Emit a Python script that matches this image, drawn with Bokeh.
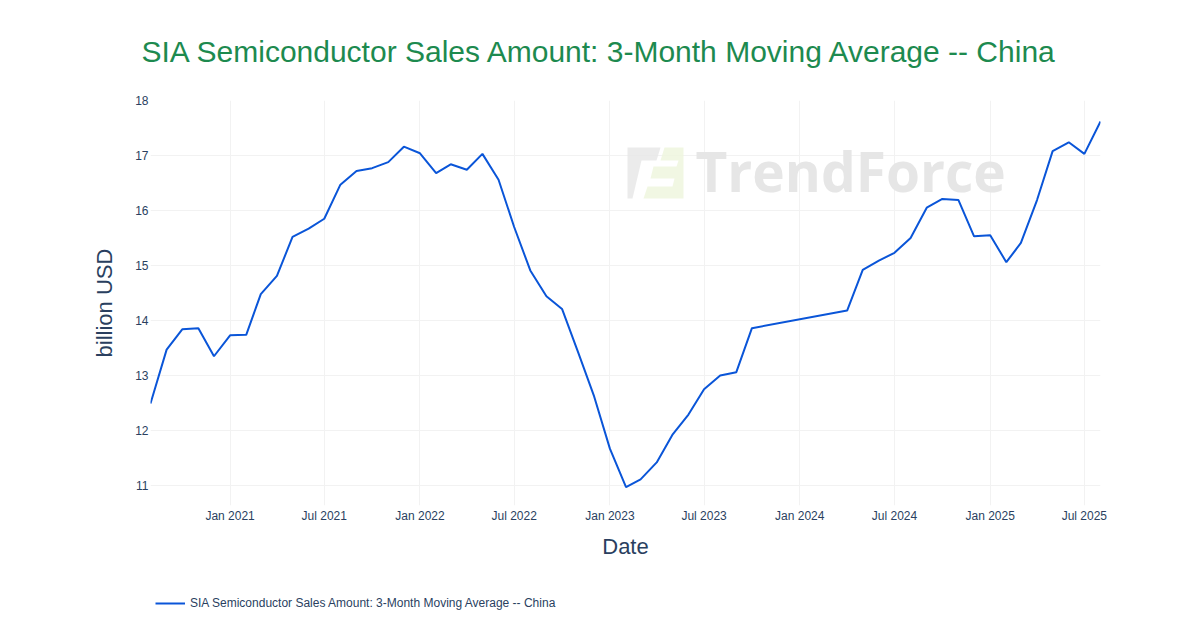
from datetime import datetime

from bokeh.embed import file_html
from bokeh.layouts import column
from bokeh.models import (ColumnDataSource, DatetimeTickFormatter, FixedTicker,
                          Label, Legend, LegendItem, PolyAnnotation, Range1d,
                          Title)
from bokeh.plotting import figure
from bokeh.resources import INLINE

# Monthly 3-month moving average of semiconductor sales in China (billion USD)
months = [
    "2020-08", "2020-09", "2020-10", "2020-11", "2020-12",
    "2021-01", "2021-02", "2021-03", "2021-04", "2021-05", "2021-06",
    "2021-07", "2021-08", "2021-09", "2021-10", "2021-11", "2021-12",
    "2022-01", "2022-02", "2022-03", "2022-04", "2022-05", "2022-06",
    "2022-07", "2022-08", "2022-09", "2022-10", "2022-11", "2022-12",
    "2023-01", "2023-02", "2023-03", "2023-04", "2023-05", "2023-06",
    "2023-07", "2023-08", "2023-09", "2023-10",
    "2024-04", "2024-05", "2024-06", "2024-07", "2024-08", "2024-09",
    "2024-10", "2024-11", "2024-12",
    "2025-01", "2025-02", "2025-03", "2025-04", "2025-05", "2025-06",
    "2025-07", "2025-08",
]
sales = [
    12.49, 13.47, 13.84, 13.86, 13.35,
    13.73, 13.74, 14.48, 14.81, 15.52, 15.67,
    15.85, 16.47, 16.72, 16.77, 16.88, 17.16,
    17.04, 16.68, 16.84, 16.74, 17.03, 16.56,
    15.70, 14.91, 14.44, 14.21, 13.42, 12.64,
    11.67, 10.97, 11.11, 11.42, 11.92, 12.29,
    12.75, 13.00, 13.06, 13.86,
    14.18, 14.92, 15.09, 15.23, 15.50, 16.05,
    16.21, 16.19, 15.53,
    15.55, 15.06, 15.41, 16.19, 17.08, 17.24,
    17.03, 17.62,
]
x_ticks = ["2021-01", "2021-07", "2022-01", "2022-07", "2023-01",
           "2023-07", "2024-01", "2024-07", "2025-01", "2025-07"]
y_ticks = [11, 12, 13, 14, 15, 16, 17, 18]

series_name = "SIA Semiconductor Sales Amount: 3-Month Moving Average -- China"

FONT = "Liberation Sans"
INK = "#2a3f5f"
GRID = "#f2f2f2"
LINE = "#0a55d8"


def to_dt(s):
    return datetime.strptime(s, "%Y-%m")


def to_ms(s):
    return (to_dt(s) - datetime(1970, 1, 1)).total_seconds() * 1000.0


dates = [to_dt(m) for m in months]
source = ColumnDataSource(data=dict(date=dates, sales=sales))

p = figure(
    width=1200, height=580,
    x_axis_type="datetime",
    output_backend="svg", toolbar_location=None,
    min_border_left=150, min_border_right=100,
    min_border_top=100, min_border_bottom=75,
    x_range=Range1d(to_ms(months[0]), to_ms(months[-1])),
    y_range=Range1d(10.636, 18.0),
)
p.outline_line_color = None
p.background_fill_color = "white"
p.border_fill_color = "white"

# Title, left-aligned just outside the frame's left edge
p.add_layout(Title(
    text=series_name, text_font=FONT, text_font_size="30px",
    text_font_style="normal", text_color="#1d8a4f",
    align="left", offset=-9, standoff=65), "above")

# Axes
p.xaxis.ticker = FixedTicker(ticks=[to_ms(t) for t in x_ticks])
p.xaxis.formatter = DatetimeTickFormatter(
    years="%b %Y", months="%b %Y", days="%b %Y", hours="%b %Y")
p.yaxis.ticker = FixedTicker(ticks=y_ticks)
for ax in (p.xaxis[0], p.yaxis[0]):
    ax.axis_line_color = None
    ax.major_tick_line_color = None
    ax.minor_tick_line_color = None
    ax.major_tick_out = 0
    ax.major_tick_in = 0
    ax.minor_tick_out = 0
    ax.minor_tick_in = 0
    ax.major_label_text_font = FONT
    ax.major_label_text_font_size = "12px"
    ax.major_label_text_color = INK
    ax.axis_label_text_font = FONT
    ax.axis_label_text_font_size = "22px"
    ax.axis_label_text_font_style = "normal"
    ax.axis_label_text_color = INK
p.xaxis.axis_label = "Date"
p.yaxis.axis_label = "billion USD"
p.xaxis.major_label_standoff = 3
p.xaxis.axis_label_standoff = 8
p.yaxis.major_label_standoff = 2
p.yaxis.axis_label_standoff = 15

p.xgrid.grid_line_color = GRID
p.ygrid.grid_line_color = GRID
p.xgrid.grid_line_width = 1
p.ygrid.grid_line_width = 1

# Faint brand watermark behind the series
logo_gray = PolyAnnotation(
    xs=[477, 510, 506, 491, 482, 477], ys=[358, 358, 345, 345, 307, 307],
    xs_units="screen", ys_units="screen",
    fill_color="#e6e6e6", fill_alpha=0.8, line_color=None, level="underlay")
logo_green = PolyAnnotation(
    xs=[514, 533, 533, 493, 497, 522, 524, 500, 503, 526, 528, 510],
    ys=[358, 358, 307, 307, 319, 319, 327, 327, 339, 339, 345, 345],
    xs_units="screen", ys_units="screen",
    fill_color="#eef5dc", fill_alpha=0.8, line_color=None, level="underlay")
p.add_layout(logo_gray)
p.add_layout(logo_green)
p.add_layout(Label(
    x=545, y=335, x_units="screen", y_units="screen",
    text="TrendForce", text_font="Open Sans", text_font_style="bold",
    text_font_size="55px", text_color="#e6e6e6", text_baseline="alphabetic",
    level="underlay"))

# Series line
r = p.line("date", "sales", source=source, line_color=LINE, line_width=2)

# Legend strip under the chart (its frame lines up with the chart's frame)
key = figure(
    width=1200, height=50, output_backend="svg", toolbar_location=None,
    min_border=0, x_range=Range1d(0, 1), y_range=Range1d(0, 1))
key.axis.visible = False
key.grid.visible = False
key.outline_line_color = None
# single off-range vertex: draws nothing, but gives the legend a swatch to style
key_line = key.line(x=[-1], y=[-1], line_color=LINE, line_width=2)
legend = Legend(
    items=[LegendItem(label=series_name, renderers=[key_line])],
    location=(5, 17), orientation="horizontal",
    padding=0, margin=0, spacing=0,
    glyph_width=30, glyph_height=20, label_height=20, label_standoff=5,
    label_text_font=FONT, label_text_font_size="12px", label_text_color=INK,
    background_fill_alpha=0, border_line_color=None)
key.add_layout(legend)

page = column(p, key, spacing=0)
open("out.html", "w").write(file_html(page, INLINE))
